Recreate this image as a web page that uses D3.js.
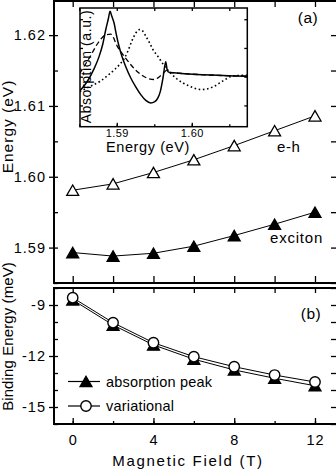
<!DOCTYPE html>
<html>
<head>
<meta charset="utf-8">
<script src="https://cdn.jsdelivr.net/npm/d3@7"></script>
<style>
  html, body { margin: 0; padding: 0; background: #fff; }
  svg { display: block; font-family: "Liberation Sans", Arial, Helvetica, sans-serif; }
</style>
</head>
<body>
<svg id="chart" width="336" height="469"></svg>
<script>
// ---- data ---------------------------------------------------------------
const field = [0, 2, 4, 6, 8, 10, 12];                       // magnetic field (T)
const ehEnergy = [1.5981, 1.5990, 1.6006, 1.6024, 1.6044, 1.6065, 1.6086];      // e-h (eV)
const excitonEnergy = [1.5893, 1.5888, 1.5892, 1.5902, 1.5917, 1.5933, 1.5950]; // exciton (eV)
const peakBinding = [-8.70, -10.18, -11.35, -12.19, -12.82, -13.31, -13.75];    // absorption peak (meV)
const variationalBinding = [-8.57, -10.04, -11.22, -12.04, -12.63, -13.12, -13.53]; // variational (meV)

const fieldTicks = [0, 4, 8, 12];
const fieldTickLabels = ["0", "4", "8", "12"];
const energyTicks = [1.59, 1.60, 1.61, 1.62];
const energyTickLabels = ["1.59", "1.60", "1.61", "1.62"];
const bindingTicks = [-9, -12, -15];
const bindingTickLabels = ["-9", "-12", "-15"];

// inset absorption spectra (energy in eV, absorption in a.u.)
const solidEnergy = [1.58507, 1.58573, 1.58631, 1.58693, 1.58764, 1.58813, 1.58853, 1.58887, 1.58911,
  1.58933, 1.58964, 1.58993, 1.59031, 1.59073, 1.59120, 1.59187, 1.59253, 1.59320, 1.59387, 1.59453,
  1.59507, 1.59543, 1.59580, 1.59617, 1.59653, 1.59671, 1.59684, 1.59707, 1.60737];
const solidAbs = [15.05, 17.09, 19.37, 22.53, 26.98, 31.30, 36.32, 40.07, 42.77,
  41.12, 38.67, 34.81, 30.49, 26.74, 23.47, 19.54, 16.46, 13.75, 11.75, 10.84,
  11.30, 12.35, 14.81, 19.72, 25.23, 22.53, 21.72, 21.47, 20.18];
const dashedEnergy = [1.58507, 1.58631, 1.58764, 1.58853, 1.58920, 1.59009, 1.59120, 1.59253, 1.59387,
  1.59497, 1.59573, 1.59617, 1.59671, 1.59707, 1.60737];
const dashedAbs = [21.2, 26.39, 32.25, 34.56, 34.81, 30.49, 26.39, 22.28, 19.72,
  19.02, 20.07, 21.12, 22.28, 21.47, 20.18];
const dottedEnergy = [1.58507, 1.58640, 1.58773, 1.58880, 1.58973, 1.59040, 1.59093, 1.59147, 1.59200,
  1.59253, 1.59300, 1.59347, 1.59387, 1.59440, 1.59480, 1.59547, 1.59640, 1.59796, 1.59973, 1.60129,
  1.60284, 1.60417, 1.60551, 1.60737];
const dottedAbs = [14.81, 16.56, 18.32, 20.42, 22.53, 24.28, 26.04, 28.84, 32.35,
  35.16, 36.39, 35.86, 34.11, 31.65, 29.54, 27.09, 23.58, 19.37, 16.67, 15.51,
  16.46, 18.56, 20.30, 20.50];
const insetTicks = [1.59, 1.60];
const insetTickLabels = ["1.59", "1.60"];

// ---- layout -------------------------------------------------------------
const svg = d3.select("#chart");
svg.append("rect").attr("width", 336).attr("height", 469).attr("fill", "#fff");

const L = 54, R = 337;
const aTop = 1, aBot = 283, bTop = 288, bBot = 424;

const x = d3.scaleLinear().domain([-0.926, 13.09]).range([L, R]);
const yA = d3.scaleLinear().domain([1.585, 1.625]).range([aBot, -0.3]);
const yB = d3.scaleLinear().domain([-16, -8]).range([bBot, bTop]);

const FONT = 14.5;

function styleAxis(g, fs, ls) {
  g.select(".domain").remove();
  g.selectAll(".tick line").attr("stroke", "#000").attr("stroke-width", 1.3);
  g.selectAll(".tick text").attr("fill", "#000").attr("font-size", fs || FONT)
    .attr("letter-spacing", ls == null ? 1 : ls)
    .attr("font-family", "\"Liberation Sans\", Arial, sans-serif");
}

// ---- panel (a) axes ---------------------------------------------------
const energyAll = d3.range(1.585, 1.6251, 0.005);
svg.append("g").attr("transform", `translate(${L},0)`)
  .call(d3.axisLeft(yA).tickValues(energyTicks).tickSize(5).tickPadding(3)
    .tickFormat((d, i) => energyTickLabels[i]))
  .call(g => styleAxis(g));
svg.append("g").attr("transform", `translate(${L},0)`)
  .call(d3.axisLeft(yA).tickValues(energyAll).tickSize(-4).tickFormat(""))
  .call(g => styleAxis(g));
svg.append("g").attr("transform", `translate(${R},0)`)
  .call(d3.axisRight(yA).tickValues(energyAll).tickSize(-6).tickFormat(""))
  .call(g => styleAxis(g));

const fieldAll = d3.range(0, 13, 2);
svg.append("g").attr("transform", `translate(0,${aTop})`)
  .call(d3.axisTop(x).tickValues(fieldAll).tickSize(-6).tickFormat(""))
  .call(g => styleAxis(g));
svg.append("g").attr("transform", `translate(0,${aBot})`)
  .call(d3.axisBottom(x).tickValues(fieldAll).tickSize(-7).tickFormat(""))
  .call(g => styleAxis(g));

// ---- panel (b) axes ---------------------------------------------------
const bindingAll = d3.range(-16, -7.9, 1);
svg.append("g").attr("transform", `translate(${L},0)`)
  .call(d3.axisLeft(yB).tickValues(bindingTicks).tickSize(5).tickPadding(3)
    .tickFormat((d, i) => bindingTickLabels[i]))
  .call(g => styleAxis(g));
svg.append("g").attr("transform", `translate(${L},0)`)
  .call(d3.axisLeft(yB).tickValues(bindingAll).tickSize(-4).tickFormat(""))
  .call(g => styleAxis(g));
svg.append("g").attr("transform", `translate(${R},0)`)
  .call(d3.axisRight(yB).tickValues(bindingAll).tickSize(-6).tickFormat(""))
  .call(g => styleAxis(g));
svg.append("g").attr("transform", `translate(0,${bTop})`)
  .call(d3.axisTop(x).tickValues(fieldAll).tickSize(-5).tickFormat(""))
  .call(g => styleAxis(g));
svg.append("g").attr("transform", `translate(0,${bBot})`)
  .call(d3.axisBottom(x).tickValues(fieldTicks).tickSize(-6).tickPadding(11)
    .tickFormat((d, i) => fieldTickLabels[i]))
  .call(g => styleAxis(g));
svg.append("g").attr("transform", `translate(0,${bBot})`)
  .call(d3.axisBottom(x).tickValues(fieldAll).tickSize(-3).tickFormat(""))
  .call(g => styleAxis(g));

// frames
svg.append("rect").attr("x", L).attr("y", aTop).attr("width", R - L).attr("height", aBot - aTop)
  .attr("fill", "none").attr("stroke", "#000").attr("stroke-width", 2);
svg.append("rect").attr("x", L).attr("y", bTop).attr("width", R - L).attr("height", bBot - bTop)
  .attr("fill", "none").attr("stroke", "#000").attr("stroke-width", 2);

// ---- markers ------------------------------------------------------------
const triSize = 62;
const triR = Math.sqrt(triSize / (Math.sqrt(3) * 3));   // d3 triangle half-offset
const triPath = d3.symbol().type(d3.symbolTriangle).size(triSize)();

function drawSeries(ys, vals, opts) {
  const pts = field.map((f, i) => [x(f), ys(vals[i])]);
  svg.append("path").attr("d", d3.line()(pts)).attr("fill", "none")
    .attr("stroke", "#000").attr("stroke-width", 1);
  const g = svg.append("g");
  if (opts.shape === "tri") {
    g.selectAll("path").data(pts).join("path")
      .attr("d", triPath)
      .attr("transform", d => `translate(${d[0]},${d[1] + triR / 2})`)
      .attr("fill", opts.fill).attr("stroke", "#000").attr("stroke-width", 1.3);
  } else {
    g.selectAll("circle").data(pts).join("circle")
      .attr("cx", d => d[0]).attr("cy", d => d[1]).attr("r", 5.2)
      .attr("fill", "#fff").attr("stroke", "#000").attr("stroke-width", 1.4);
  }
}

drawSeries(yA, ehEnergy, { shape: "tri", fill: "#fff" });
drawSeries(yA, excitonEnergy, { shape: "tri", fill: "#000" });
drawSeries(yB, peakBinding, { shape: "tri", fill: "#000" });
drawSeries(yB, variationalBinding, { shape: "circle" });

// ---- panel labels and annotations ---------------------------------------
function label(txt, xp, yp, fs, opts = {}) {
  return svg.append("text").attr("x", xp).attr("y", yp).text(txt)
    .attr("font-size", fs).attr("fill", "#000")
    .attr("letter-spacing", opts.ls || 0)
    .attr("text-anchor", opts.anchor || "start")
    .attr("transform", opts.rotate ? `rotate(-90,${xp},${yp})` : null);
}

label("(a)", 308, 23, 15.5, { anchor: "middle", ls: 0.5 });
label("(b)", 311, 319, 15.5, { anchor: "middle", ls: 0.5 });
label("e-h", 277, 151.5, 15, { ls: 0.6 });
label("exciton", 270, 242.5, 15, { ls: 0.8 });

label("Energy (eV)", 12.5, 126.5, 15.5, { anchor: "middle", rotate: true, ls: 1 });
label("Binding Energy (meV)", 13, 336.5, 15, { anchor: "middle", rotate: true, ls: 0.1 });
label("Magnetic Field (T)", 188, 466, 15, { anchor: "middle", ls: 1.7 });

// legend
const legend = [
  { text: "absorption peak", y: 381.5, shape: "tri" },
  { text: "variational", y: 406, shape: "circle" }
];
legend.forEach(it => {
  svg.append("line").attr("x1", 68).attr("x2", 100).attr("y1", it.y).attr("y2", it.y)
    .attr("stroke", "#000").attr("stroke-width", 1.2);
  if (it.shape === "tri") {
    svg.append("path").attr("d", triPath)
      .attr("transform", `translate(86,${it.y + triR / 2})`)
      .attr("fill", "#000").attr("stroke", "#000").attr("stroke-width", 1.3);
  } else {
    svg.append("circle").attr("cx", 86).attr("cy", it.y).attr("r", 5.2)
      .attr("fill", "#fff").attr("stroke", "#000").attr("stroke-width", 1.4);
  }
  label(it.text, 106, it.y + 5, 14.5, { ls: 0.2 });
});

// ---- inset: absorption spectra -----------------------------------------
const iL = 80, iR = 247.3, iT = 8, iB = 126.7;
const xi = d3.scaleLinear().domain([1.5851, 1.6074]).range([iL, iR]);
const yi = d3.scaleLinear().domain([2.6, 43.9]).range([iB, iT]);

svg.append("rect").attr("x", iL).attr("y", iT).attr("width", iR - iL).attr("height", iB - iT)
  .attr("fill", "#fff");
svg.append("clipPath").attr("id", "insetClip").append("rect")
  .attr("x", iL).attr("y", iT).attr("width", iR - iL).attr("height", iB - iT);

const insetAll = [1.585, 1.59, 1.595, 1.60, 1.605];
const absTicks = [10, 20, 30, 40];
svg.append("g").attr("transform", `translate(0,${iB})`)
  .call(d3.axisBottom(xi).tickValues(insetTicks).tickSize(-4).tickPadding(2.5)
    .tickFormat((d, i) => insetTickLabels[i]))
  .call(g => styleAxis(g, 11, 0.4));
svg.append("g").attr("transform", `translate(0,${iB})`)
  .call(d3.axisBottom(xi).tickValues(insetAll).tickSize(-2.5).tickFormat(""))
  .call(g => styleAxis(g));
svg.append("g").attr("transform", `translate(0,${iT})`)
  .call(d3.axisTop(xi).tickValues(insetAll).tickSize(-3).tickFormat(""))
  .call(g => styleAxis(g));
svg.append("g").attr("transform", `translate(${iL},0)`)
  .call(d3.axisLeft(yi).tickValues(absTicks).tickSize(-3).tickFormat(""))
  .call(g => styleAxis(g));
svg.append("g").attr("transform", `translate(${iR},0)`)
  .call(d3.axisRight(yi).tickValues(absTicks).tickSize(-3).tickFormat(""))
  .call(g => styleAxis(g));

const insetLine = d3.line().x(d => xi(d[0])).y(d => yi(d[1])).curve(d3.curveMonotoneX);
const curves = [
  { e: dottedEnergy, a: dottedAbs, dash: "1.6,2.6", w: 1.6 },
  { e: dashedEnergy, a: dashedAbs, dash: "5,3", w: 1.3 },
  { e: solidEnergy, a: solidAbs, dash: null, w: 1.5 }
];
curves.forEach(c => {
  svg.append("path").attr("clip-path", "url(#insetClip)")
    .attr("d", insetLine(c.e.map((e, i) => [e, c.a[i]])))
    .attr("fill", "none").attr("stroke", "#000").attr("stroke-width", c.w)
    .attr("stroke-dasharray", c.dash);
});

svg.append("rect").attr("x", iL).attr("y", iT).attr("width", iR - iL).attr("height", iB - iT)
  .attr("fill", "none").attr("stroke", "#000").attr("stroke-width", 1.5);

label("Absorption (a.u.)", 91, 66.5, 14, { anchor: "middle", rotate: true, ls: 0.6 });
label("Energy (eV)", 148, 152, 14.5, { anchor: "middle", ls: 0.6 });
</script>
</body>
</html>
